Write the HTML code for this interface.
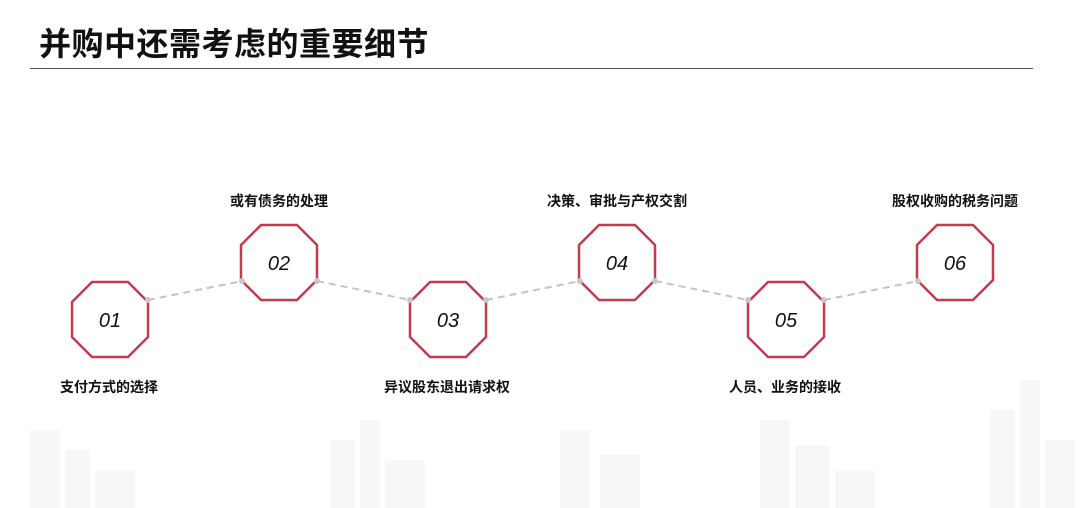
<!DOCTYPE html>
<html><head><meta charset="utf-8"><style>
body{margin:0;width:1080px;height:508px;background:#fff;overflow:hidden;position:relative;font-family:"Liberation Sans","Noto Sans CJK SC",sans-serif}
.t{position:absolute;left:39px;top:19px;font-size:32px;font-weight:bold;color:#111;letter-spacing:0.5px}
.l{position:absolute;font-size:14px;font-weight:bold;color:#111;white-space:nowrap;transform:translateX(-50%)}
</style></head><body>
<div class="t">并购中还需考虑的重要细节</div>
<div style="position:absolute;left:30px;top:68px;width:1003px;height:1px;background:#555"></div>
<svg width="1080" height="508" style="position:absolute;left:0;top:0">
<g fill="#f7f7f7">
<rect x="30" y="430" width="30" height="78"/><rect x="65" y="450" width="25" height="58"/><rect x="95" y="470" width="40" height="38"/>
<rect x="330" y="440" width="25" height="68"/><rect x="360" y="420" width="20" height="88"/><rect x="385" y="460" width="40" height="48"/>
<rect x="560" y="430" width="30" height="78"/><rect x="600" y="455" width="40" height="53"/>
<rect x="760" y="420" width="30" height="88"/><rect x="795" y="445" width="35" height="63"/><rect x="835" y="470" width="40" height="38"/>
<rect x="990" y="410" width="25" height="98"/><rect x="1020" y="380" width="20" height="128"/><rect x="1045" y="440" width="30" height="68"/>
</g>
<g stroke="#c4c4c4" stroke-width="2" stroke-dasharray="7,5">
<line x1="148" y1="300" x2="242" y2="281"/><line x1="317" y1="281" x2="410" y2="300"/>
<line x1="486" y1="300" x2="580" y2="281"/><line x1="655" y1="281" x2="748" y2="300"/>
<line x1="824" y1="300" x2="918" y2="281"/>
</g>
<g fill="#fff" stroke="#c23b4e" stroke-width="2.5">
<polygon points="92,282 128,282 148,302 148,337 128,357 92,357 72,337 72,302"/>
<polygon transform="translate(169,-57)" points="92,282 128,282 148,302 148,337 128,357 92,357 72,337 72,302"/>
<polygon transform="translate(338,0)" points="92,282 128,282 148,302 148,337 128,357 92,357 72,337 72,302"/>
<polygon transform="translate(507,-57)" points="92,282 128,282 148,302 148,337 128,357 92,357 72,337 72,302"/>
<polygon transform="translate(676,0)" points="92,282 128,282 148,302 148,337 128,357 92,357 72,337 72,302"/>
<polygon transform="translate(845,-57)" points="92,282 128,282 148,302 148,337 128,357 92,357 72,337 72,302"/>
</g>
<g fill="#c8c8c8">
<circle cx="148" cy="300" r="3"/><circle cx="242" cy="281" r="3"/><circle cx="317" cy="281" r="3"/><circle cx="410" cy="300" r="3"/>
<circle cx="486" cy="300" r="3"/><circle cx="580" cy="281" r="3"/><circle cx="655" cy="281" r="3"/><circle cx="748" cy="300" r="3"/>
<circle cx="824" cy="300" r="3"/><circle cx="918" cy="281" r="3"/>
</g>
<g font-family="Liberation Sans" font-style="italic" font-size="20" fill="#111" text-anchor="middle">
<text x="110" y="327">01</text><text x="279" y="270">02</text><text x="448" y="327">03</text>
<text x="617" y="270">04</text><text x="786" y="327">05</text><text x="955" y="270">06</text>
</g>
</svg>
<div class="l" style="left:109px;top:377px">支付方式的选择</div>
<div class="l" style="left:279px;top:191px">或有债务的处理</div>
<div class="l" style="left:447px;top:377px">异议股东退出请求权</div>
<div class="l" style="left:617px;top:191px">决策、审批与产权交割</div>
<div class="l" style="left:785px;top:377px">人员、业务的接收</div>
<div class="l" style="left:955px;top:191px">股权收购的税务问题</div>
</body></html>
